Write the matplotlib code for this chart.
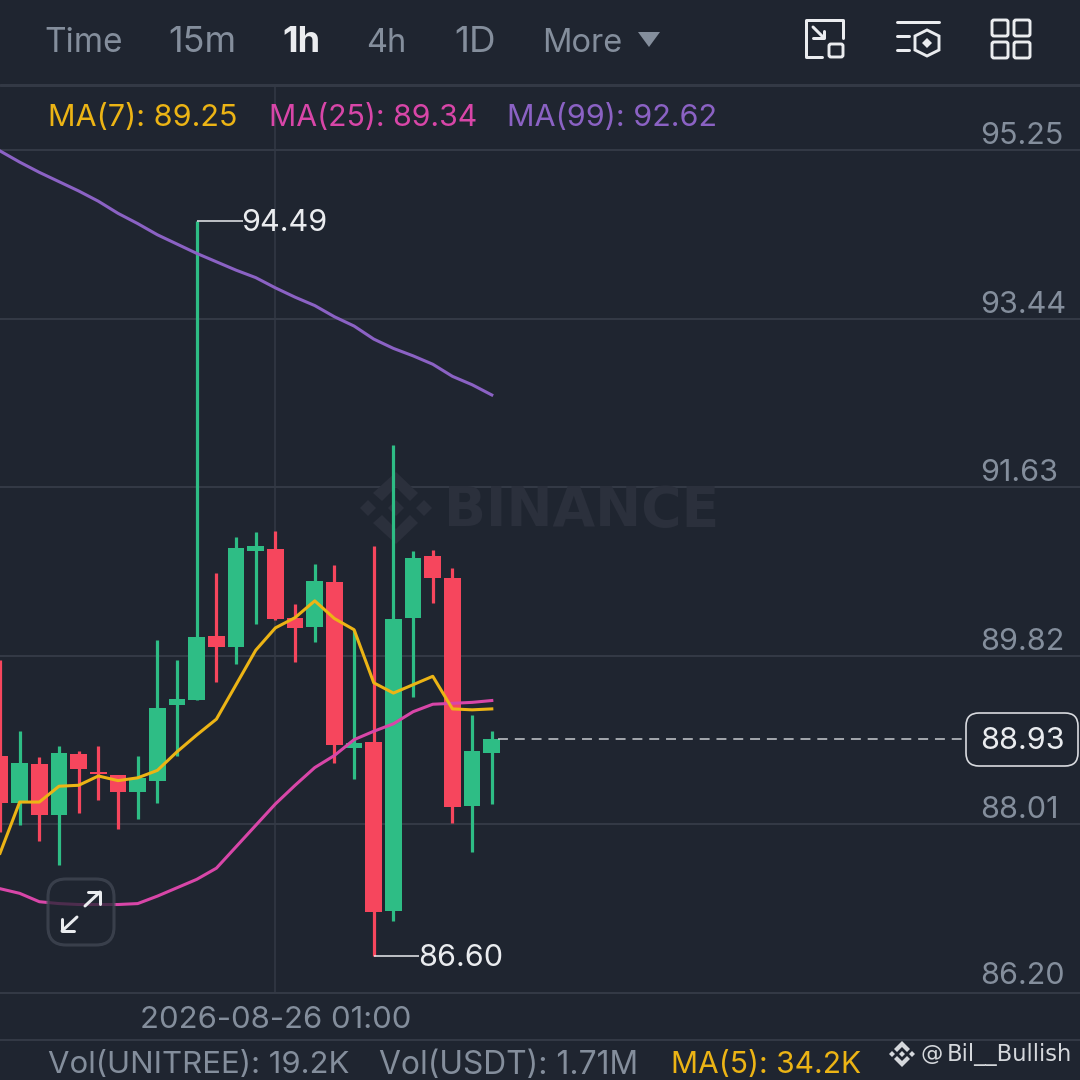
import matplotlib
matplotlib.use('Agg')
import matplotlib.pyplot as plt
from matplotlib.patches import FancyBboxPatch, Polygon
from matplotlib.transforms import Affine2D, blended_transform_factory

plt.rcParams['font.family'] = ['Inter', 'DejaVu Sans']

# candles, oldest first
opens = [88.74, 88.24, 88.66, 88.11, 88.77, 88.57, 88.54, 88.36, 88.48, 89.29, 89.35, 90.03, 89.91, 90.94,
         90.97, 90.23, 90.13, 90.61, 88.83, 88.89, 87.08, 90.23, 90.89, 90.66, 88.21, 88.78]
closes = [88.24, 88.67, 88.11, 88.78, 88.60, 88.55, 88.36, 88.51, 89.26, 89.36, 90.02, 89.91, 90.98, 91.00,
          90.22, 90.12, 90.62, 88.86, 88.88, 87.07, 90.22, 90.87, 90.66, 88.20, 88.80, 88.93]
highs = [89.77, 89.01, 88.73, 88.85, 88.80, 88.85, 88.54, 88.74, 89.99, 89.77, 94.49, 90.71, 91.10, 91.15,
         91.16, 90.38, 90.81, 90.79, 90.10, 91.00, 92.08, 90.95, 90.96, 90.76, 89.18, 89.01]
lows = [87.93, 88.00, 87.83, 87.57, 88.13, 88.27, 87.96, 88.07, 88.24, 88.74, 89.35, 89.54, 89.73, 90.16,
        90.20, 89.75, 89.97, 88.67, 88.50, 86.60, 86.97, 89.38, 90.39, 88.03, 87.71, 88.23]

ma7 = [87.70, 88.25, 88.25, 88.42, 88.43, 88.53, 88.48, 88.51, 88.59, 88.79, 88.97, 89.14, 89.51, 89.88,
       90.12, 90.23, 90.41, 90.22, 90.10, 89.53, 89.42, 89.51, 89.60, 89.25, 89.24, 89.25]
ma25 = [87.32, 87.27, 87.18, 87.16, 87.15, 87.15, 87.15, 87.16, 87.24, 87.33, 87.42, 87.54, 87.77, 88.00,
        88.23, 88.43, 88.62, 88.75, 88.92, 89.01, 89.09, 89.22, 89.30, 89.31, 89.32, 89.34]
ma99 = [95.24, 95.12, 95.01, 94.91, 94.81, 94.70, 94.57, 94.46, 94.34, 94.24, 94.14, 94.05, 93.96, 93.88,
        93.77, 93.67, 93.58, 93.46, 93.36, 93.22, 93.12, 93.04, 92.95, 92.82, 92.73, 92.62]

price_ticks = [95.25, 93.44, 91.63, 89.82, 88.01, 86.20]
price_labels = ['95.25', '93.44', '91.63', '89.82', '88.01', '86.20']
last_price = 88.93
date_index = 14
date_label = '2026-08-26 01:00'
high_index, high_price = 10, 94.49
low_index, low_price = 19, 86.60

BG = '#1f2530'
GRID = '#333945'
GRAY = '#848e9c'
WHITE = '#eaecef'
GREEN = '#2ebd85'
RED = '#f6465d'
YELLOW = '#ecb415'
PINK = '#d846a8'
PURPLE = '#8b62c4'
MARK = '#2b303c'

fig = plt.figure(figsize=(10.8, 10.8), dpi=100, facecolor=BG)
ax = fig.add_axes([0, 0, 1, 1], facecolor=BG)

# chart scale: one candle is 19.67 px, one price unit is 93.15 px
ax.set_xlim(0.0, 54.9)
ax.set_ylim(95.25 - (1080 - 150) / 93.15, 95.25 + 150 / 93.15)
for s in ax.spines.values():
    s.set_visible(False)

# px gives picture pixels with the origin top left
px = Affine2D().scale(1 / 1080, -1 / 1080).translate(0, 1) + fig.transFigure
px_y_data = blended_transform_factory(px, ax.transData)


def line(xs, ys, color, lw=3.0, z=6, **kw):
    ax.plot(xs, ys, color=color, lw=lw * 0.72, transform=px, zorder=z, solid_capstyle='round', **kw)


def label(x, y, s, color=GRAY, size=22, ha='left', weight='normal', z=7, family=None):
    ax.text(x, y + 3, s, color=color, fontsize=size, ha=ha, va='center', fontweight=weight,
            transform=px, zorder=z, family=family)


# grid
ax.set_yticks(price_ticks)
ax.set_xticks([])
ax.tick_params(length=0, labelleft=False)
ax.grid(axis='y', color=GRID, lw=1.5)
ax.set_axisbelow(True)
ax.vlines(date_index, price_ticks[-1], 95.25 + (150 - 85) / 93.15, color=GRID, lw=1.1, zorder=1)
line([0, 1080], [85, 85], GRID, 3, z=1)
line([0, 1080], [1040, 1040], GRID, 2, z=1)

# watermark
cx, cy = 396, 508
for shape in ([(-23, -15), (0, -36), (22, -15), (14, -7), (0, -21), (-14, -7)],
              [(-23, 15), (0, 36), (22, 15), (14, 7), (0, 21), (-14, 7)],
              [(-8, 0), (0, -8), (8, 0), (0, 8)],
              [(-36, 0), (-28, -8), (-20, 0), (-28, 8)],
              [(36, 0), (28, -8), (20, 0), (28, 8)]):
    ax.add_patch(Polygon([(cx + a, cy + b) for a, b in shape], closed=True, fc=MARK, ec='none', transform=px, zorder=1.5))
label(444, 508, 'BINANCE', MARK, 39.7, weight='bold', z=1.5, family='DejaVu Sans')

# candles
for i in range(len(opens)):
    c = GREEN if closes[i] >= opens[i] else RED
    ax.vlines(i, lows[i], highs[i], color=c, lw=2.3, zorder=3)
    ax.bar(i, abs(closes[i] - opens[i]), 0.85, bottom=min(opens[i], closes[i]), color=c, zorder=3)

# moving averages
x = list(range(len(ma7)))
ax.plot(x, ma99, color=PURPLE, lw=2.2, zorder=4, solid_joinstyle='round')
ax.plot(x, ma25, color=PINK, lw=2.2, zorder=4, solid_joinstyle='round')
ax.plot(x, ma7, color=YELLOW, lw=2.2, zorder=4, solid_joinstyle='round')

# high and low markers
down2 = ax.transData + Affine2D().translate(0, -2)
ax.hlines(high_price, high_index, high_index + 2.34, color=WHITE, lw=1.1, zorder=5)
ax.hlines(low_price, low_index, low_index + 2.29, color=WHITE, lw=1.1, zorder=5)
ax.text(high_index + 2.27, high_price, f'{high_price:.2f}', color=WHITE, fontsize=22, va='center', transform=down2, zorder=7)
ax.text(low_index + 2.23, low_price, f'{low_price:.2f}', color=WHITE, fontsize=22, va='center', transform=down2, zorder=7)

# price axis labels sit above their grid lines
for p, s in zip(price_ticks, price_labels):
    rise = 17 if p == price_ticks[-1] else 14
    ax.text(980, p, s, color=GRAY, fontsize=22, va='center', transform=px_y_data + Affine2D().translate(0, rise), zorder=7)

# last price
ax.plot([25.3, 49], [last_price, last_price], color='#c8cbd0', lw=1.1, dashes=(6.5, 4.5), zorder=5)
ax.add_patch(FancyBboxPatch((966, 713), 112, 53, boxstyle='round,pad=0,rounding_size=13', fc=BG,
                            ec='#d8dadf', lw=1.2, transform=px, zorder=6))
ax.text(980, last_price, f'{last_price:.2f}', color=WHITE, fontsize=22, va='center',
        transform=px_y_data + Affine2D().translate(0, -2), zorder=7)

# top bar
for xp, s, c, w, fs in [(44, 'Time', GRAY, 'normal', 24), (168, '15m', GRAY, 'normal', 26), (282, '1h', WHITE, 'bold', 26),
                        (366, '4h', GRAY, 'normal', 23.5), (454, '1D', GRAY, 'normal', 26.5), (542, 'More', GRAY, 'normal', 23.5)]:
    label(xp, 40, s, c, fs, weight=w)
ax.add_patch(Polygon([(638, 32), (660, 32), (649, 47)], closed=True, fc=GRAY, ec='none', transform=px, zorder=7))
label(48, 115, 'MA(7): 89.25', YELLOW, 22)
label(269, 115, 'MA(25): 89.34', PINK, 21.8)
label(507, 115, 'MA(99): 92.62', PURPLE, 22)

# top right icons
line([822, 806, 806, 843, 843], [57, 57, 20, 20, 38], WHITE)
line([813, 824], [27, 38], WHITE)
line([813, 824, 824], [38, 38, 31], WHITE)
ax.add_patch(FancyBboxPatch((829, 44), 14, 13, boxstyle='round,pad=0,rounding_size=2', fc='none', ec=WHITE, lw=2.1, transform=px, zorder=6))
line([897, 939], [22, 22], WHITE)
line([897, 909], [36, 36], WHITE)
line([897, 909], [50, 50], WHITE)
ax.add_patch(Polygon([(927, 30), (939, 36), (939, 50), (927, 56), (915, 50), (915, 36)], closed=True, fc='none', ec=WHITE, lw=2.1, transform=px, zorder=6))
ax.add_patch(Polygon([(927, 38), (932, 43), (927, 48), (922, 43)], closed=True, fc=WHITE, ec='none', transform=px, zorder=6))
for xp, yp in [(992, 20), (1014, 20), (992, 42), (1014, 42)]:
    ax.add_patch(FancyBboxPatch((xp, yp), 16, 16, boxstyle='round,pad=0,rounding_size=2', fc='none', ec=WHITE, lw=2.1, transform=px, zorder=6))

# expand button
ax.add_patch(FancyBboxPatch((48, 879), 66, 66, boxstyle='round,pad=0,rounding_size=18', fc=BG, alpha=0.75,
                            ec='#434955', lw=2.2, transform=px, zorder=6))
line([85, 100], [906, 892], WHITE)
line([88, 100, 100], [892, 892, 904], WHITE)
line([62, 77], [931, 917], WHITE)
line([62, 62, 74], [919, 931, 931], WHITE)

# bottom text
label(140, 1017, date_label, GRAY, 22.3)
label(48, 1062, 'Vol(UNITREE): 19.2K', GRAY, 22.4)
label(379, 1062, 'Vol(USDT): 1.71M', GRAY, 22.9)
label(671, 1062, 'MA(5): 34.2K', YELLOW, 21.6)

# watermark bottom right
wx, wy = 902, 1054
for shape in ([(-8, -5), (0, -13), (8, -5), (5, -2), (0, -7), (-5, -2)],
              [(-8, 5), (0, 13), (8, 5), (5, 2), (0, 7), (-5, 2)],
              [(-3, 0), (0, -3), (3, 0), (0, 3)],
              [(-13, 0), (-10, -3), (-7, 0), (-10, 3)],
              [(13, 0), (10, -3), (7, 0), (10, 3)]):
    ax.add_patch(Polygon([(wx + a, wy + b) for a, b in shape], closed=True, fc='#d5d8dc', ec='none', transform=px, zorder=7))
label(921, 1051, '@', '#d5d8dc', 16, family='DejaVu Sans')
label(947, 1051, 'Bil__Bullish', '#d5d8dc', 16.3, family='DejaVu Sans')

fig.savefig('out.png', dpi=100, facecolor=BG)
